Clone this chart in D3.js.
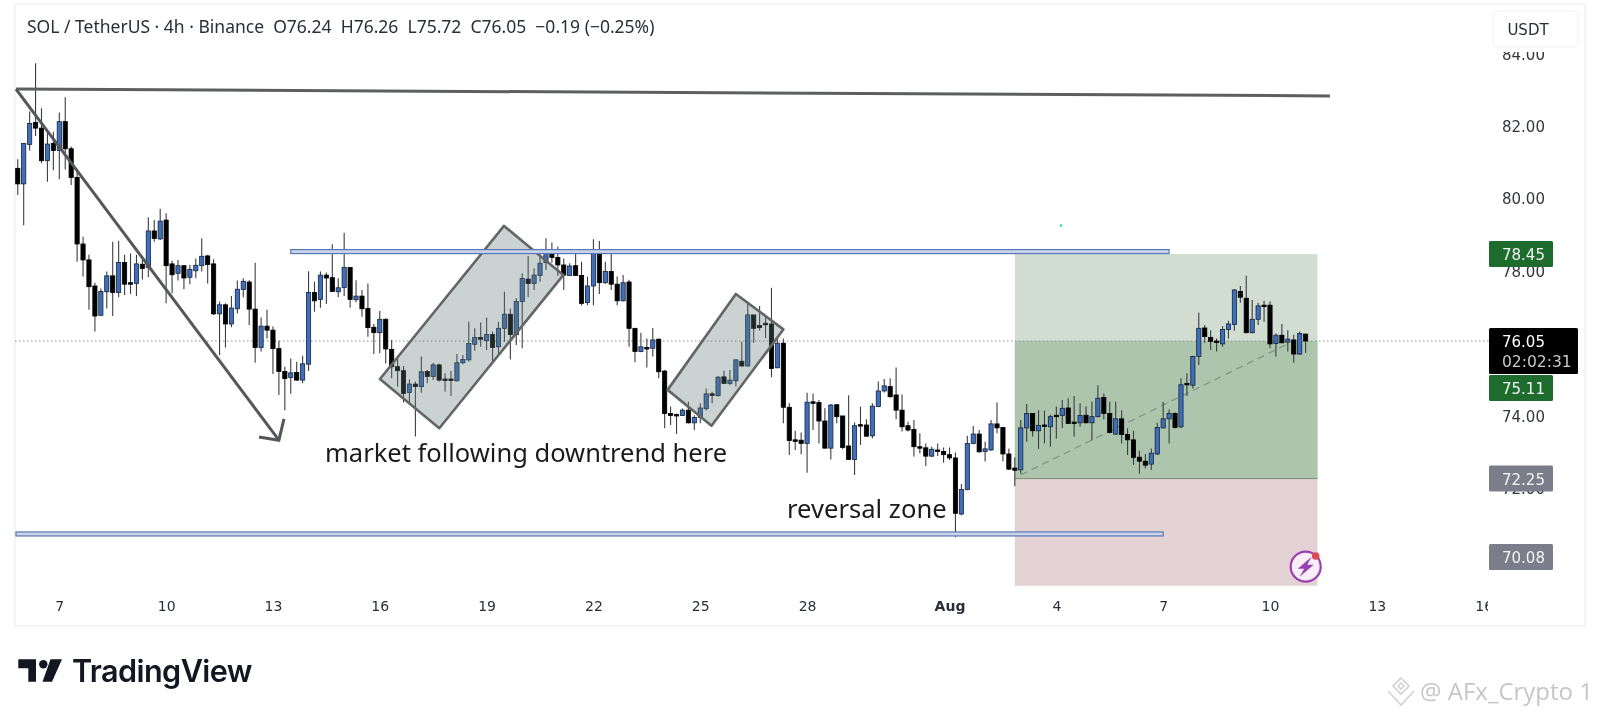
<!DOCTYPE html>
<html>
<head>
<meta charset="utf-8">
<style>
  html, body { margin: 0; background: #fff; overflow: hidden; }
  svg { display: block; filter: blur(0.35px); }
</style>
<script src="https://cdn.jsdelivr.net/npm/d3@7/dist/d3.min.js"></script>
</head>
<body>
<div id="root"></div>
<script>
// 4h candles, first one is 5 Jul 20:00
const opens = [
  80.82,80.39,81.48,82.09,81.93,81.03,81.51,81.31,82.11,81.36,
  80.57,78.73,78.29,77.57,76.76,77.41,77.85,77.39,78.22,77.66,
  77.64,78.17,78.08,79.09,78.87,79.39,78.18,77.92,78.13,77.81,
  77.99,78.13,78.40,78.18,76.80,77.05,76.52,76.94,77.47,77.68,
  76.93,75.87,76.46,76.35,75.84,75.21,75.04,75.18,74.97,75.41,
  77.39,77.20,77.87,77.80,77.41,77.53,78.08,77.19,77.29,76.95,
  76.43,76.28,76.65,75.82,75.34,75.23,74.63,74.86,74.79,75.21,
  75.07,75.39,75.00,75.00,74.95,75.45,75.53,75.96,76.15,76.06,
  76.23,75.89,76.40,76.79,76.23,77.14,77.76,77.64,77.86,78.22,
  78.58,78.36,78.15,77.86,78.13,77.86,77.11,77.57,78.49,77.66,
  77.97,77.62,77.16,77.68,76.40,75.76,75.87,75.85,76.10,75.22,
  74.05,74.02,73.99,74.14,73.79,73.94,74.18,74.59,74.54,75.06,
  74.88,74.95,75.49,75.36,76.77,76.48,76.54,76.52,75.31,75.99,
  74.22,73.32,73.31,73.22,74.37,74.35,73.84,73.09,74.29,73.98,
  73.15,72.78,73.74,73.73,73.43,74.24,74.67,74.79,74.56,74.14,
  73.71,73.61,73.13,73.10,72.87,73.04,73.00,72.91,72.82,71.27,
  71.95,73.22,73.48,73.00,73.04,73.76,73.66,72.93,72.54,72.49,
  73.65,74.05,73.57,73.73,73.68,74.00,73.99,74.20,73.81,73.79,
  74.00,73.79,73.96,74.49,74.05,73.48,73.90,73.47,73.32,72.84,
  72.73,72.65,72.93,73.65,73.90,74.05,73.68,74.88,74.83,75.62,
  76.41,76.15,76.05,75.97,76.37,76.51,77.42,77.23,76.28,76.65,
  77.04,77.04,75.98,76.21,76.02,76.08,75.69,76.24
];
const highs = [
  81.07,81.51,82.39,83.72,82.48,81.83,81.83,82.36,82.78,81.42,
  80.73,78.93,78.43,77.66,77.50,77.97,78.79,78.82,78.43,78.47,
  78.43,78.29,79.47,79.39,79.70,79.58,78.27,78.29,78.15,78.15,
  78.33,78.89,78.43,78.31,77.14,77.09,77.29,77.72,77.78,77.73,
  78.21,76.70,76.91,76.45,76.06,75.34,75.57,75.48,75.64,77.98,
  77.69,77.97,77.94,78.72,77.78,79.04,78.09,77.73,77.46,77.64,
  76.52,76.88,76.68,76.08,75.62,75.36,74.99,74.93,75.62,75.25,
  75.45,75.42,75.16,75.22,75.69,75.66,76.58,76.40,76.56,76.70,
  76.31,76.58,77.41,76.95,77.23,77.92,78.40,78.06,78.43,78.89,
  78.77,78.66,78.33,78.20,78.58,78.24,77.83,78.86,78.81,78.24,
  78.56,77.83,77.87,77.74,76.40,76.28,76.12,76.41,76.12,75.25,
  74.24,74.05,74.19,74.37,74.00,74.33,74.74,74.65,75.08,75.23,
  75.25,75.53,76.03,77.07,76.77,77.02,76.77,77.52,76.17,76.12,
  74.33,73.57,73.52,74.62,74.60,74.42,74.19,74.31,74.31,73.98,
  74.55,73.80,74.24,73.89,74.33,74.93,75.00,75.02,75.32,74.57,
  73.82,73.87,73.50,73.22,73.13,73.22,73.11,73.11,72.97,72.10,
  73.43,73.70,73.59,73.27,73.87,74.35,73.68,73.08,72.84,73.87,
  74.31,74.05,74.14,74.13,74.01,74.24,74.42,74.47,74.53,74.33,
  74.25,74.37,74.83,74.60,74.37,74.37,74.14,73.64,73.57,73.02,
  72.93,73.08,73.79,74.37,74.16,74.08,75.02,75.16,75.64,76.83,
  76.49,76.35,76.12,76.46,76.61,77.48,77.57,77.85,77.18,77.11,
  77.16,77.14,76.26,76.52,76.35,76.22,76.31,76.26
];
const lows = [
  80.08,79.25,81.31,81.71,80.96,80.45,80.77,80.52,80.79,80.36,
  78.24,77.83,76.91,76.31,76.76,76.95,76.74,77.26,77.32,77.35,
  77.29,77.75,77.81,78.79,78.84,77.09,77.37,77.72,77.48,77.62,
  77.78,77.97,77.64,76.77,75.66,75.87,76.43,76.81,77.26,76.49,
  75.45,75.76,76.12,75.14,74.56,74.14,74.59,74.95,74.88,75.22,
  76.86,76.97,77.07,77.41,77.26,77.29,76.97,77.12,76.72,76.17,
  75.69,75.71,75.43,75.02,74.79,74.35,74.28,73.41,74.62,74.88,
  74.97,74.93,74.65,74.53,74.93,75.41,75.48,75.78,75.89,75.80,
  75.45,75.66,76.03,75.54,75.94,75.85,77.26,77.46,77.69,78.01,
  78.21,77.85,77.46,77.85,77.85,77.03,77.04,77.04,77.35,77.63,
  77.46,77.04,77.14,75.89,75.46,75.74,75.32,75.62,75.02,73.64,
  73.73,73.48,73.99,73.77,73.59,73.78,74.14,74.33,74.51,74.86,
  74.83,74.79,75.34,75.34,76.00,76.34,76.13,75.05,75.30,73.78,
  72.90,73.04,72.92,72.41,73.59,73.22,73.08,72.78,73.78,73.06,
  72.76,72.35,73.18,73.41,73.36,74.22,74.63,74.49,73.89,73.55,
  73.55,72.86,72.95,72.60,72.84,72.87,72.69,72.76,70.63,71.24,
  71.93,73.20,72.96,72.72,73.02,73.50,72.72,72.49,72.04,72.38,
  73.27,73.41,73.07,73.22,73.13,73.36,73.64,73.76,73.41,73.68,
  73.78,73.31,73.94,73.89,73.50,73.45,73.22,72.90,72.63,72.38,
  72.53,72.49,72.90,73.63,73.22,73.63,73.64,74.53,74.74,75.39,
  76.00,75.80,75.76,75.89,76.12,76.33,77.11,76.26,76.26,76.49,
  76.58,75.85,75.62,75.99,75.76,75.45,75.66,75.72
];
const closes = [
  80.39,81.51,82.06,81.93,81.03,81.49,81.31,82.11,81.36,80.57,
  78.73,78.29,77.55,76.74,77.42,77.85,77.39,78.22,77.62,77.64,
  78.18,78.05,79.09,78.88,79.36,78.13,77.88,78.13,77.79,78.03,
  78.14,78.39,78.16,76.80,77.05,76.52,76.96,77.48,77.70,76.93,
  75.87,76.46,76.35,75.84,75.21,75.01,75.17,74.97,75.42,77.39,
  77.16,77.87,77.79,77.42,77.52,78.08,77.20,77.29,76.94,76.42,
  76.28,76.65,75.83,75.34,75.23,74.60,74.86,74.79,75.20,75.07,
  75.39,74.97,74.98,74.98,75.45,75.54,75.98,76.15,76.10,76.23,
  75.87,76.40,76.79,76.23,77.14,77.78,77.64,77.87,78.20,78.55,
  78.36,78.15,77.87,78.12,77.86,77.09,77.57,78.49,77.66,77.97,
  77.62,77.16,77.66,76.40,75.76,75.89,75.84,76.08,75.20,74.05,
  73.99,74.00,74.14,73.79,73.94,74.20,74.59,74.55,75.05,74.88,
  74.97,75.53,75.36,76.77,76.40,76.42,76.52,75.29,75.99,74.22,
  73.30,73.30,73.22,74.36,74.36,73.84,73.09,74.28,73.96,73.11,
  72.78,73.71,73.72,73.42,74.25,74.67,74.81,74.51,74.14,73.68,
  73.59,73.13,73.11,72.87,73.06,73.00,72.91,72.82,71.29,71.95,
  73.22,73.48,72.99,73.07,73.76,73.65,72.93,72.51,72.48,73.65,
  74.05,73.57,73.72,73.71,73.96,73.98,74.19,73.77,73.79,73.99,
  73.79,73.96,74.47,74.05,73.52,73.90,73.47,73.32,72.83,72.73,
  72.62,72.95,73.66,73.90,74.05,73.66,74.84,74.86,75.62,76.40,
  76.17,76.04,76.03,76.37,76.52,77.46,77.26,76.28,76.65,77.02,
  77.02,75.97,76.21,76.00,76.10,75.69,76.26,76.05
];

const priceTicks = [84, 82, 80, 78, 74, 72];
const timeTickBars = [7, 25, 43, 61, 79, 97, 115, 133, 157, 175, 193, 211, 229, 247];
const timeTickLabels = ["7", "10", "13", "16", "19", "22", "25", "28", "Aug", "4", "7", "10", "13", "16"];

// drawings on the chart, as [bar, price]
const topLine = [[-0.3, 83.01], [221.1, 82.82]];
const downArrow = [[-0.3, 83.01], [44, 73.31]];
const arrowHead = [[44.86, 73.9], [44, 73.31], [40.65, 73.4]];
const resistance = { from: 46, to: 194, price: 78.52 };
const support = { from: -0.3, to: 193, price: 70.72 };
const channelA = [[61.03, 75], [81.93, 79.23], [91.92, 77.87], [71.03, 73.64]];
const channelB = [[109.5, 74.7], [121, 77.35], [129, 76.37], [116.9, 73.71]];
const position = { from: 168, to: 219, target: 78.45, entry: 72.25, stop: 69.29 };
const positionPath = [[169, 72.35], [214, 75.97]];
const lastPrice = 76.05;

const width = 1600;
const height = 716;
const fontAxis = "'DejaVu Sans', sans-serif";
const fontNote = "'Noto Sans', sans-serif";

const x = d3.scaleLinear().domain([7, 211]).range([59.3, 1270]);
const y = d3.scaleLinear().domain([76.05, 82]).range([341, 125.6]);

const svg = d3.select("#root").append("svg").attr("width", width).attr("height", height);

const pts = (list) => list.map((d) => [x(d[0]), y(d[1])]);
const line = d3.line();

// frame
svg.append("rect").attr("x", 15).attr("y", 4).attr("width", 1570).attr("height", 622)
  .attr("fill", "none").attr("stroke", "#f1f2f5").attr("stroke-width", 1.5);

// long position box
const posX = x(position.from);
const posW = x(position.to) - posX;
svg.append("rect").attr("x", posX).attr("y", y(position.target)).attr("width", posW)
  .attr("height", y(position.entry) - y(position.target)).attr("fill", "#d0ddd0");
svg.append("rect").attr("x", posX).attr("y", y(lastPrice)).attr("width", posW)
  .attr("height", y(position.entry) - y(lastPrice)).attr("fill", "#adc5ad");
svg.append("rect").attr("x", posX).attr("y", y(position.entry)).attr("width", posW)
  .attr("height", y(position.stop) - y(position.entry)).attr("fill", "#e3d2d3");
svg.append("line").attr("x1", posX).attr("x2", posX + posW)
  .attr("y1", y(position.entry)).attr("y2", y(position.entry))
  .attr("stroke", "#7d8a80").attr("stroke-width", 1);
svg.append("path").attr("d", line(pts(positionPath))).attr("fill", "none")
  .attr("stroke", "#84958a").attr("stroke-width", 1.3).attr("stroke-dasharray", "7 5");

// last price line
svg.append("line").attr("x1", 15).attr("x2", 1489).attr("y1", y(lastPrice)).attr("y2", y(lastPrice))
  .attr("stroke", "#8a8a8a").attr("stroke-width", 1).attr("stroke-dasharray", "1.5 2.5");

// candles
const bars = d3.range(opens.length);
const candle = svg.append("g").selectAll("g").data(bars).join("g");
candle.append("line")
  .attr("x1", (i) => x(i)).attr("x2", (i) => x(i))
  .attr("y1", (i) => y(highs[i])).attr("y2", (i) => y(lows[i]))
  .attr("stroke", "#3a3d42").attr("stroke-width", 1.1);
candle.append("rect")
  .attr("x", (i) => x(i) - 2.1).attr("width", 4.2)
  .attr("y", (i) => y(Math.max(opens[i], closes[i])))
  .attr("height", (i) => Math.max(1.5, Math.abs(y(opens[i]) - y(closes[i]))))
  .attr("fill", (i) => (closes[i] > opens[i] ? "#3f6fb8" : "#000"))
  .attr("stroke", (i) => (closes[i] > opens[i] ? "#15233f" : "#000"))
  .attr("stroke-width", 0.8);

// channels
[channelA, channelB].forEach((c) => {
  svg.append("path").attr("d", line(pts(c)) + "Z")
    .attr("fill", "#5f7a74").attr("fill-opacity", 0.33)
    .attr("stroke", "#626664").attr("stroke-width", 2.6).attr("stroke-linejoin", "round");
});

// trend lines
svg.append("path").attr("d", line(pts(topLine))).attr("fill", "none")
  .attr("stroke", "#5c5e60").attr("stroke-width", 3);
svg.append("path").attr("d", line(pts(downArrow))).attr("fill", "none")
  .attr("stroke", "#55575a").attr("stroke-width", 3);
svg.append("path").attr("d", line(pts(arrowHead))).attr("fill", "none")
  .attr("stroke", "#55575a").attr("stroke-width", 3);

// double blue levels
[resistance, support].forEach((l) => {
  svg.append("rect").attr("x", x(l.from)).attr("width", x(l.to) - x(l.from))
    .attr("y", y(l.price) - 2).attr("height", 4)
    .attr("fill", "#c9d4ea").attr("stroke", "#5a77b5").attr("stroke-width", 1.2);
});

svg.append("circle").attr("cx", 1061).attr("cy", 225.5).attr("r", 1.3).attr("fill", "#38cfc4");

// notes
svg.append("text").attr("x", 325).attr("y", 462).text("market following downtrend here")
  .attr("font-family", fontNote).attr("font-size", 25.5).attr("fill", "#1b1b1b");
svg.append("text").attr("x", 787).attr("y", 518).text("reversal zone")
  .attr("font-family", fontNote).attr("font-size", 25.6).attr("fill", "#1b1b1b");

// header
svg.append("text").attr("x", 27).attr("y", 33)
  .text("SOL / TetherUS · 4h · Binance  O76.24  H76.26  L75.72  C76.05  −0.19 (−0.25%)")
  .style("white-space", "pre")
  .attr("font-family", fontNote).attr("font-size", 17.5).attr("fill", "#2a2e39");

// axes
svg.append("clipPath").attr("id", "timeClip").append("rect")
  .attr("x", 0).attr("y", 590).attr("width", 1488).attr("height", 40);
const timeAxis = svg.append("g").attr("clip-path", "url(#timeClip)").append("g")
  .attr("transform", "translate(0,601)")
  .call(d3.axisBottom(x).tickValues(timeTickBars).tickFormat((d, i) => timeTickLabels[i]).tickSize(0).tickPadding(0));
timeAxis.select(".domain").remove();
timeAxis.selectAll("text").attr("font-family", fontAxis).attr("font-size", 14).attr("fill", "#2a2e39")
  .attr("font-weight", (d) => (d === 157 ? "bold" : "normal"));

const priceAxis = svg.append("g").attr("transform", "translate(1502,1)")
  .call(d3.axisRight(y).tickValues(priceTicks).tickFormat(d3.format(".2f")).tickSize(0).tickPadding(0));
priceAxis.select(".domain").remove();
priceAxis.selectAll("text").attr("font-family", fontAxis).attr("font-size", 15).attr("fill", "#33363e");

// currency button, covers the top of the 84.00 label
svg.append("rect").attr("x", 1490).attr("y", 46).attr("width", 90).attr("height", 6).attr("fill", "#fff");
svg.append("rect").attr("x", 1493).attr("y", 11).attr("width", 85).attr("height", 36).attr("rx", 5)
  .attr("fill", "#fff").attr("stroke", "#f0f1f4");
svg.append("text").attr("x", 1528).attr("y", 35).attr("text-anchor", "middle").text("USDT")
  .attr("font-family", fontAxis).attr("font-size", 15).attr("fill", "#2a2e39");

// price tags
const tags = [
  { label: "78.45", price: 78.45, color: "#1e6b2e", shift: 0 },
  { label: "75.11", price: 75.11, color: "#1e6b2e", shift: 13 },
  { label: "72.25", price: 72.25, color: "#7b7d8b", shift: 0 },
  { label: "70.08", price: 70.08, color: "#7b7d8b", shift: 0 }
];
tags.forEach((t) => {
  const cy = y(t.price) + t.shift;
  svg.append("rect").attr("x", 1489).attr("y", cy - 13).attr("width", 64).attr("height", 26).attr("rx", 1.5)
    .attr("fill", t.color);
  svg.append("text").attr("x", 1502).attr("y", cy + 6).text(t.label)
    .attr("font-family", fontAxis).attr("font-size", 15).attr("fill", "#f2f4f2");
});
svg.append("rect").attr("x", 1489).attr("y", y(lastPrice) - 13).attr("width", 89).attr("height", 46).attr("rx", 1.5)
  .attr("fill", "#000");
svg.append("text").attr("x", 1502).attr("y", y(lastPrice) + 6).text("76.05")
  .attr("font-family", fontAxis).attr("font-size", 15).attr("fill", "#fff");
svg.append("text").attr("x", 1502).attr("y", y(lastPrice) + 26).text("02:02:31")
  .attr("font-family", fontAxis).attr("font-size", 15.5).attr("fill", "#c9c9c9");

// lightning badge
const badge = svg.append("g").attr("transform", "translate(1305.7,566.7)");
badge.append("circle").attr("r", 15).attr("fill", "#f8eef7").attr("stroke", "#9a3fb0").attr("stroke-width", 2.2);
badge.append("path").attr("d", "M6,-10 L-8,2 L-1.5,2 L-6,10 L8,-2 L1.5,-2 Z").attr("fill", "#9a3fb0");
badge.append("circle").attr("cx", 10).attr("cy", -10.7).attr("r", 3.8).attr("fill", "#db4a55");

// TradingView mark
const logo = svg.append("g");
logo.append("path").attr("d", "M18.3,659.3 H36 V681.7 H28.3 V668.3 H18.3 Z").attr("fill", "#131722");
logo.append("circle").attr("cx", 43.3).attr("cy", 664.3).attr("r", 4.2).attr("fill", "#131722");
logo.append("path").attr("d", "M50.5,659.3 H62 L52,681.7 H42.5 Z").attr("fill", "#131722");
svg.append("text").attr("x", 72).attr("y", 682).text("TradingView")
  .attr("font-family", "Inter, sans-serif").attr("font-weight", 600).attr("font-size", 30.6)
  .attr("letter-spacing", -0.6).attr("fill", "#131722");

// watermark
const mark = svg.append("g").attr("transform", "translate(1401,692)")
  .attr("fill", "none").attr("stroke", "#d2d2d2").attr("stroke-width", 1.6);
mark.append("path").attr("d", "M0,-14 L8,-6 L0,2 L-8,-6 Z");
mark.append("path").attr("d", "M-13,-1 L0,13 L13,-1");
mark.append("path").attr("d", "M-3,-6 L0,-3 L3,-6 L0,-9 Z");
svg.append("text").attr("x", 1420).attr("y", 700).text("@ AFx_Crypto 1")
  .attr("font-family", "'Open Sans', sans-serif").attr("font-size", 24).attr("fill", "#c6c6c6");
</script>
</body>
</html>
